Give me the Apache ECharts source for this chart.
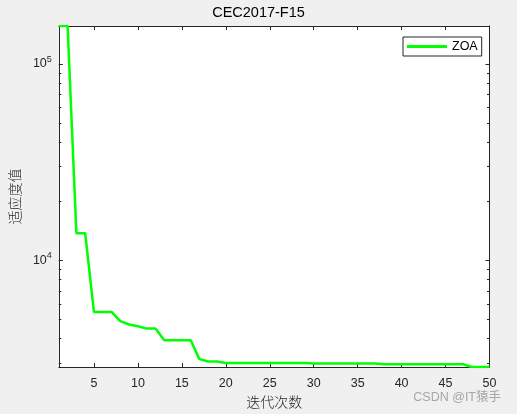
<!DOCTYPE html>
<html>
<head>
<meta charset="utf-8">
<script src="https://cdn.jsdelivr.net/npm/echarts@6/dist/echarts.min.js"></script>
<style>
html,body{margin:0;padding:0;background:#f0f0f0;}
#main{width:517px;height:414px;}
</style>
</head>
<body>
<div id="main"></div>
<script>
var iterations = [];
for (var i = 1; i <= 50; i++) iterations.push(i);
var zoaValues = [
  155800, 155800, 13750, 13750, 5470, 5470, 5470, 4910, 4720, 4630,
  4500, 4500, 3930, 3930, 3930, 3930, 3148, 3062, 3062, 3006,
  3006, 3006, 3006, 3006, 3006, 3006, 3006, 3006, 3006, 2990,
  2990, 2990, 2990, 2990, 2990, 2990, 2990, 2965, 2965, 2965,
  2965, 2965, 2965, 2965, 2965, 2965, 2965, 2870, 2870, 2870
];
var xTickValues = [5, 10, 15, 20, 25, 30, 35, 40, 45, 50];
var yMajorTicks = [10000, 100000];
var yMinorTicks = [3000, 4000, 5000, 6000, 7000, 8000, 9000, 20000, 30000, 40000, 50000, 60000, 70000, 80000, 90000];

var yMin = Math.min.apply(null, zoaValues);
var yMax = Math.max.apply(null, zoaValues);
var axisColor = '#262626';
var cjk = '"Noto Sans CJK SC", sans-serif';
var latin = '"Liberation Sans", Arial, sans-serif';

var chart = echarts.init(document.getElementById('main'));

function yAxisBase(pos, ticks, len, showLine) {
  return {
    type: 'log', logBase: 10, position: pos, min: yMin, max: yMax,
    axisLine: {show: showLine, lineStyle: {color: axisColor, width: 1}},
    axisTick: {show: true, inside: true, length: len, customValues: ticks, lineStyle: {color: axisColor, width: 1}},
    axisLabel: {show: false},
    splitLine: {show: false}
  };
}

var yAxes = [
  yAxisBase('left', yMajorTicks, 4, true),
  yAxisBase('left', yMinorTicks, 2.5, false),
  yAxisBase('right', yMajorTicks, 4, true),
  yAxisBase('right', yMinorTicks, 2.5, false)
];
yAxes[0].axisLabel = {
  show: true, margin: 7, customValues: yMajorTicks,
  formatter: function (v) {
    return '{b|10}{s|' + Math.round(Math.log10(v)) + '}';
  },
  rich: {
    b: {fontSize: 12.5, fontFamily: latin, color: axisColor},
    s: {fontSize: 9, fontFamily: latin, color: axisColor, padding: [0, 0, 9, 0]}
  }
};
yAxes[0].name = '适应度值';
yAxes[0].nameLocation = 'middle';
yAxes[0].nameGap = 33;
yAxes[0].nameTextStyle = {fontSize: 14, fontFamily: cjk, color: axisColor, fontWeight: 300};

function xAxisBase(pos, showLabel) {
  return {
    type: 'value', position: pos, min: 1, max: 50,
    axisLine: {show: true, lineStyle: {color: axisColor, width: 1}},
    axisTick: {show: true, inside: true, length: 4, customValues: xTickValues, lineStyle: {color: axisColor, width: 1}},
    axisLabel: {show: showLabel, customValues: xTickValues, margin: 10, fontSize: 12.5, fontFamily: latin, color: axisColor},
    splitLine: {show: false}
  };
}
var xAxes = [xAxisBase('bottom', true), xAxisBase('top', false)];
xAxes[0].name = '迭代次数';
xAxes[0].nameLocation = 'middle';
xAxes[0].nameGap = 28;
xAxes[0].nameTextStyle = {fontSize: 14, fontFamily: cjk, color: axisColor, fontWeight: 300};

var seriesData = iterations.map(function (x, i) { return [x, zoaValues[i]]; });

chart.setOption({
  backgroundColor: '#f0f0f0',
  animation: false,
  grid: {left: 57, right: 27.5, top: 26, bottom: 46, show: true, backgroundColor: '#ffffff', borderWidth: 0},
  xAxis: xAxes,
  yAxis: yAxes,
  legend: {
    left: 403, top: 37, orient: 'vertical',
    padding: [3, 4, 3, 4], itemWidth: 40, itemHeight: 3, icon: 'rect',
    backgroundColor: '#ffffff', borderColor: '#262626', borderWidth: 1, borderRadius: 0,
    textStyle: {fontSize: 12.5, fontFamily: latin, color: '#000', lineHeight: 13},
    data: ['ZOA']
  },
  graphic: [
    {type: 'text', left: 'center', top: 5, style: {text: 'CEC2017-F15', fontSize: 14.5, fontFamily: latin, fill: '#000'}, x: 14},
    {type: 'text', right: 16, top: 391, style: {text: 'CSDN @IT猿手', fontSize: 12.5, fontFamily: latin + ', ' + cjk, fill: '#a6a6a6'}}
  ],
  series: [{
    name: 'ZOA', type: 'line', xAxisIndex: 0, yAxisIndex: 0,
    data: seriesData, symbol: 'none', showSymbol: false,
    lineStyle: {color: '#00ff00', width: 2.5}, itemStyle: {color: '#00ff00'},
    clip: true
  }]
});
</script>
</body>
</html>
